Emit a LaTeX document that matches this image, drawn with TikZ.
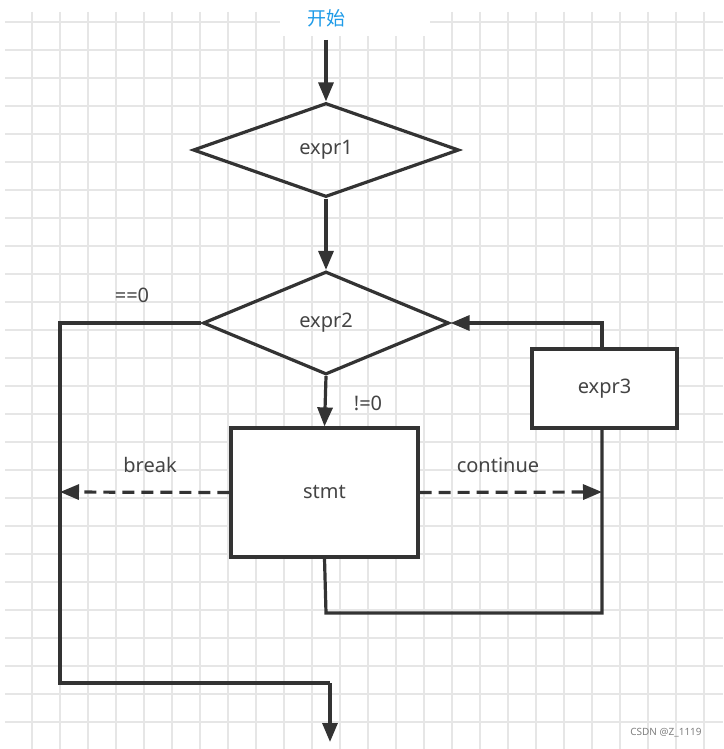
\documentclass[tikz,border=0pt]{standalone}
\usepackage{fontspec}
\setmainfont{Noto Sans}
\newfontfamily\cjk{Noto Sans CJK SC}
\usetikzlibrary{arrows.meta,shapes.geometric}
\definecolor{ln}{HTML}{333333}
\definecolor{tx}{HTML}{444444}
\definecolor{gr}{HTML}{E6E6E6}
\definecolor{bl}{HTML}{1E9BE8}
\begin{document}
\begin{tikzpicture}[x=1pt,y=-1pt,
  ar/.style={draw=ln,line width=3.2pt,-{Triangle[width=15pt,length=19pt]}},
  ln/.style={draw=ln,line width=3.2pt},
  dia/.style={diamond,draw=ln,line width=3.2pt,aspect=2.55,inner sep=0pt,font=\fontsize{20}{20}\selectfont,text=tx},
  box/.style={rectangle,draw=ln,line width=3.2pt,fill=white,inner sep=0pt,font=\fontsize{20}{20}\selectfont,text=tx},
  lab/.style={font=\fontsize{20}{20}\selectfont,text=tx}]
\useasboundingbox (0,0) rectangle (723,749);
\fill[white] (0,0) rectangle (723,749);
\foreach \x in {32,60,...,720} \draw[gr,line width=1.8pt] (\x,12) -- (\x,749);
\foreach \y in {22,50,...,749} \draw[gr,line width=1.8pt] (5,\y) -- (723,\y);
\fill[white] (280,0) rectangle (430,36);
\node[font=\cjk\fontsize{19}{19}\selectfont,text=bl] (start) at (326,18) {开始};
\node[dia,minimum width=266pt,minimum height=94pt] (e1) at (326,150) {expr1};
\node[dia,minimum width=246pt,minimum height=103pt] (e2) at (326,323) {expr2};
\node[box,minimum width=187pt,minimum height=129pt] (st) at (324.5,492.5) {stmt};
\node[box,minimum width=145pt,minimum height=79pt] (e3) at (604.5,388.5) {expr3};
\coordinate (c0) at (326,40);
\coordinate (bl) at (60,323);
\coordinate (bb) at (60,683);
\coordinate (br) at (330,683);
\coordinate (end) at (330,742);
\coordinate (brk) at (60,492);
\coordinate (cnt) at (602,492);
\coordinate (s1) at (326,613);
\coordinate (s2) at (602,613);
\coordinate (s3) at (602,428);
\coordinate (t1) at (602,323);
\draw[ar] (c0) -- (e1.north);
\draw[ar] (e1.south) -- (e2.north);
\draw[ar] (e2.south) -- (st.north);
\draw[ln] (e2.west) -- (bl) -- (bb) -- (br);
\draw[ar] (br) -- (end);
\draw[ar,dash pattern=on 12pt off 7pt] (st.west) -- (brk);
\draw[ar,dash pattern=on 12pt off 7pt] (st.east) -- (cnt);
\draw[ln] (st.south) -- (s1) -- (s2) -- (s3);
\draw[ar] (e3.north -| t1) -- (t1) -- (e2.east);
\node[lab] (z) at (132,295) {==0};
\node[lab] (nz) at (368,403) {!=0};
\node[lab] (bk) at (150,465) {break};
\node[lab] (ct) at (498,465) {continue};
\node[font=\fontsize{10}{10}\selectfont,text=gray] (wm) at (666,733) {CSDN @Z\_1119};
\end{tikzpicture}
\end{document}
